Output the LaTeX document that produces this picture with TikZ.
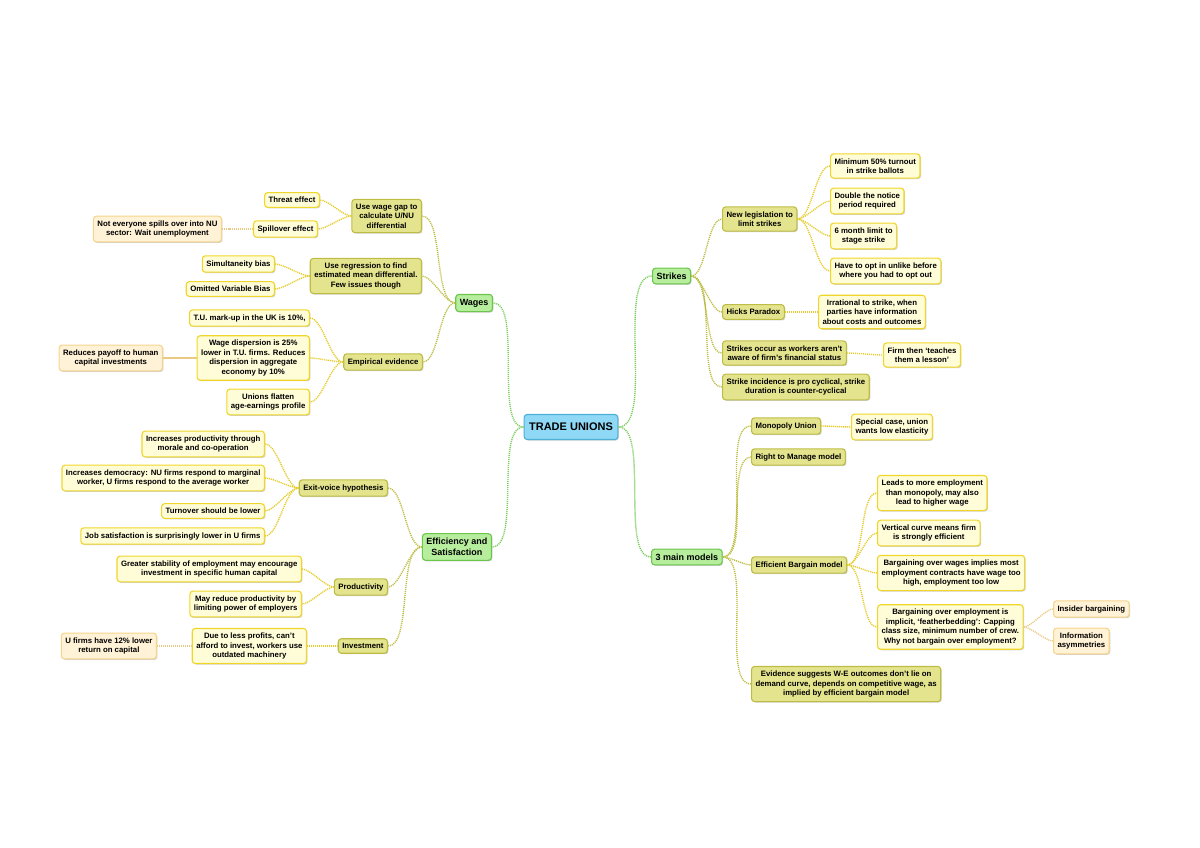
\documentclass[tikz,border=0pt]{standalone}
\usepackage{fontspec}
\setmainfont{Liberation Sans}
\usepackage{xcolor}
\definecolor{skyfill}{HTML}{8FD8F6}
\definecolor{skyline}{HTML}{4FB0D6}
\definecolor{leaffill}{HTML}{B6EE9E}
\definecolor{leafline}{HTML}{6CC64C}
\definecolor{olivefill}{HTML}{E4E48E}
\definecolor{oliveline}{HTML}{BDBD45}
\definecolor{lemonfill}{HTML}{FFFCD8}
\definecolor{lemonline}{HTML}{F0D62A}
\definecolor{peachfill}{HTML}{FFF2D6}
\definecolor{peachline}{HTML}{F6D48C}
\usepackage{tikz}
\usetikzlibrary{shadows}

\begin{document}
\begin{tikzpicture}[x=1pt, y=-1pt,
  box/.style={rounded corners=3pt, align=center, inner xsep=4pt, inner ysep=4.5pt,
    font=\bfseries\fontsize{7.8}{9.4}\selectfont, line width=1.1pt,
    drop shadow={shadow xshift=1pt, shadow yshift=-1pt, opacity=0.3, fill=black!60}},
  rootbox/.style={box, fill=skyfill, draw=skyline, font=\bfseries\fontsize{11}{13}\selectfont,
    minimum height=25pt, inner xsep=5pt},
  topic/.style={box, fill=leaffill, draw=leafline, font=\bfseries\fontsize{9}{11}\selectfont},
  branch/.style={box, fill=olivefill, draw=oliveline},
  leafbox/.style={box, fill=lemonfill, draw=lemonline},
  note/.style={box, fill=peachfill, draw=peachline},
  link/.style={dash pattern=on 1.1pt off 0.9pt, line width=1.4pt, looseness=0.6},
  greenlink/.style={link, draw=leafline!90},
  olivelink/.style={link, draw=oliveline},
  lemonlink/.style={link, draw=lemonline!95!black},
  peachlink/.style={link, draw=peachline!95!black}]
  \useasboundingbox (0,0) rectangle (1200,848);

  % Central topic
  \node[rootbox] (root) at (571,427) {TRADE UNIONS};

  % Wages
  \node[topic, anchor=east] (wages) at (493,303) {Wages};
  \node[branch, anchor=east] (gap) at (422,216) {Use wage gap to\\calculate U/NU\\differential};
  \node[leafbox, anchor=east] (threat) at (320,200) {Threat effect};
  \node[leafbox, anchor=east] (spill) at (318,229) {Spillover effect};
  \node[note, anchor=east] (waitu) at (222,229) {Not everyone spills over into NU\\sector: Wait unemployment};
  \node[branch, anchor=east] (regr) at (422,276) {Use regression to find\\estimated mean differential.\\Few issues though};
  \node[leafbox, anchor=east] (simul) at (275,264) {Simultaneity bias};
  \node[leafbox, anchor=east] (omit) at (275,289) {Omitted Variable Bias};
  \node[branch, anchor=east] (empir) at (423,362) {Empirical evidence};
  \node[leafbox, anchor=east] (markup) at (310,318) {T.U. mark-up in the UK is 10\%,};
  \node[leafbox, anchor=east] (disp) at (310,358) {Wage dispersion is 25\%\\lower in T.U. firms. Reduces\\dispersion in aggregate\\economy by 10\%};
  \node[note, anchor=east] (payoff) at (163,358) {Reduces payoff to human\\capital investments};
  \node[leafbox, anchor=east] (flat) at (310,402) {Unions flatten\\age-earnings profile};

  % Efficiency and Satisfaction
  \node[topic, anchor=east] (effsat) at (492,547) {Efficiency and\\Satisfaction};
  \node[branch, anchor=east] (exitv) at (388,488) {Exit-voice hypothesis};
  \node[leafbox, anchor=east] (morale) at (265,444) {Increases productivity through\\morale and co-operation};
  \node[leafbox, anchor=east] (democ) at (265,478) {Increases democracy: NU firms respond to marginal\\worker, U firms respond to the average worker};
  \node[leafbox, anchor=east] (turnover) at (265,511) {Turnover should be lower};
  \node[leafbox, anchor=east] (jobsat) at (265,536) {Job satisfaction is surprisingly lower in U firms};
  \node[branch, anchor=east] (prod) at (388,587) {Productivity};
  \node[leafbox, anchor=east] (stable) at (302,569) {Greater stability of employment may encourage\\investment in specific human capital};
  \node[leafbox, anchor=east] (limit) at (302,604) {May reduce productivity by\\limiting power of employers};
  \node[branch, anchor=east] (invest) at (388,646) {Investment};
  \node[leafbox, anchor=east] (profits) at (307,646) {Due to less profits, can't\\afford to invest, workers use\\outdated machinery};
  \node[note, anchor=east] (capital) at (157,646) {U firms have 12\% lower\\return on capital};

  % Strikes
  \node[topic, anchor=west] (strikes) at (652,276) {Strikes};
  \node[branch, anchor=west] (legis) at (722,219) {New legislation to\\limit strikes};
  \node[leafbox, anchor=west] (turnout) at (830,166) {Minimum 50\% turnout\\in strike ballots};
  \node[leafbox, anchor=west] (notice) at (830,201) {Double the notice\\period required};
  \node[leafbox, anchor=west] (sixm) at (830,236) {6 month limit to\\stage strike};
  \node[leafbox, anchor=west] (optin) at (830,271) {Have to opt in unlike before\\where you had to opt out};
  \node[branch, anchor=west] (hicks) at (722,312) {Hicks Paradox};
  \node[leafbox, anchor=west] (irrat) at (818,312) {Irrational to strike, when\\parties have information\\about costs and outcomes};
  \node[branch, anchor=west] (aware) at (722,353) {Strikes occur as workers aren't\\aware of firm's financial status};
  \node[leafbox, anchor=west] (lesson) at (883,355) {Firm then `teaches\\them a lesson'};
  \node[branch, anchor=west] (cyc) at (722,387) {Strike incidence is pro cyclical, strike\\duration is counter-cyclical};

  % 3 main models
  \node[topic, anchor=west] (models) at (651,557) {3 main models};
  \node[branch, anchor=west] (monop) at (751,426) {Monopoly Union};
  \node[leafbox, anchor=west] (special) at (851,427) {Special case, union\\wants low elasticity};
  \node[branch, anchor=west] (rtm) at (751,457) {Right to Manage model};
  \node[branch, anchor=west] (effb) at (751,565) {Efficient Bargain model};
  \node[leafbox, anchor=west] (leads) at (877,493) {Leads to more employment\\than monopoly, may also\\lead to higher wage};
  \node[leafbox, anchor=west] (vert) at (877,533) {Vertical curve means firm\\is strongly efficient};
  \node[leafbox, anchor=west] (wageb) at (877,573) {Bargaining over wages implies most\\employment contracts have wage too\\high, employment too low};
  \node[leafbox, anchor=west] (feather) at (877,627) {Bargaining over employment is\\implicit, `featherbedding': Capping\\class size, minimum number of crew.\\Why not bargain over employment?};
  \node[note, anchor=west] (insider) at (1053,609) {Insider bargaining};
  \node[note, anchor=west] (infoasym) at (1053,641) {Information\\asymmetries};
  \node[branch, anchor=west] (evid) at (751,684) {Evidence suggests W-E outcomes don't lie on\\demand curve, depends on competitive wage, as\\implied by efficient bargain model};

  % Connectors, left half
  \foreach \a/\b in {root/wages, root/effsat}
    \draw[greenlink] (\a.west) to[out=180, in=0] (\b.east);
  \foreach \a/\b in {wages/gap, wages/regr, wages/empir, effsat/exitv, effsat/prod, effsat/invest}
    \draw[olivelink] (\a.west) to[out=180, in=0] (\b.east);
  \foreach \a/\b in {gap/threat, gap/spill, regr/simul, regr/omit, empir/markup, empir/disp, empir/flat,
      exitv/morale, exitv/democ, exitv/turnover, exitv/jobsat, prod/stable, prod/limit, invest/profits}
    \draw[lemonlink] (\a.west) to[out=180, in=0] (\b.east);
  \foreach \a/\b in {spill/waitu, disp/payoff, profits/capital}
    \draw[peachlink] (\a.west) to[out=180, in=0] (\b.east);

  % Connectors, right half
  \foreach \a/\b in {root/strikes, root/models}
    \draw[greenlink] (\a.east) to[out=0, in=180] (\b.west);
  \foreach \a/\b in {strikes/legis, strikes/hicks, strikes/aware, strikes/cyc,
      models/monop, models/rtm, models/effb, models/evid}
    \draw[olivelink] (\a.east) to[out=0, in=180] (\b.west);
  \foreach \a/\b in {legis/turnout, legis/notice, legis/sixm, legis/optin, hicks/irrat, aware/lesson,
      monop/special, effb/leads, effb/vert, effb/wageb, effb/feather}
    \draw[lemonlink] (\a.east) to[out=0, in=180] (\b.west);
  \foreach \a/\b in {feather/insider, feather/infoasym}
    \draw[peachlink] (\a.east) to[out=0, in=180] (\b.west);
\end{tikzpicture}
\end{document}
